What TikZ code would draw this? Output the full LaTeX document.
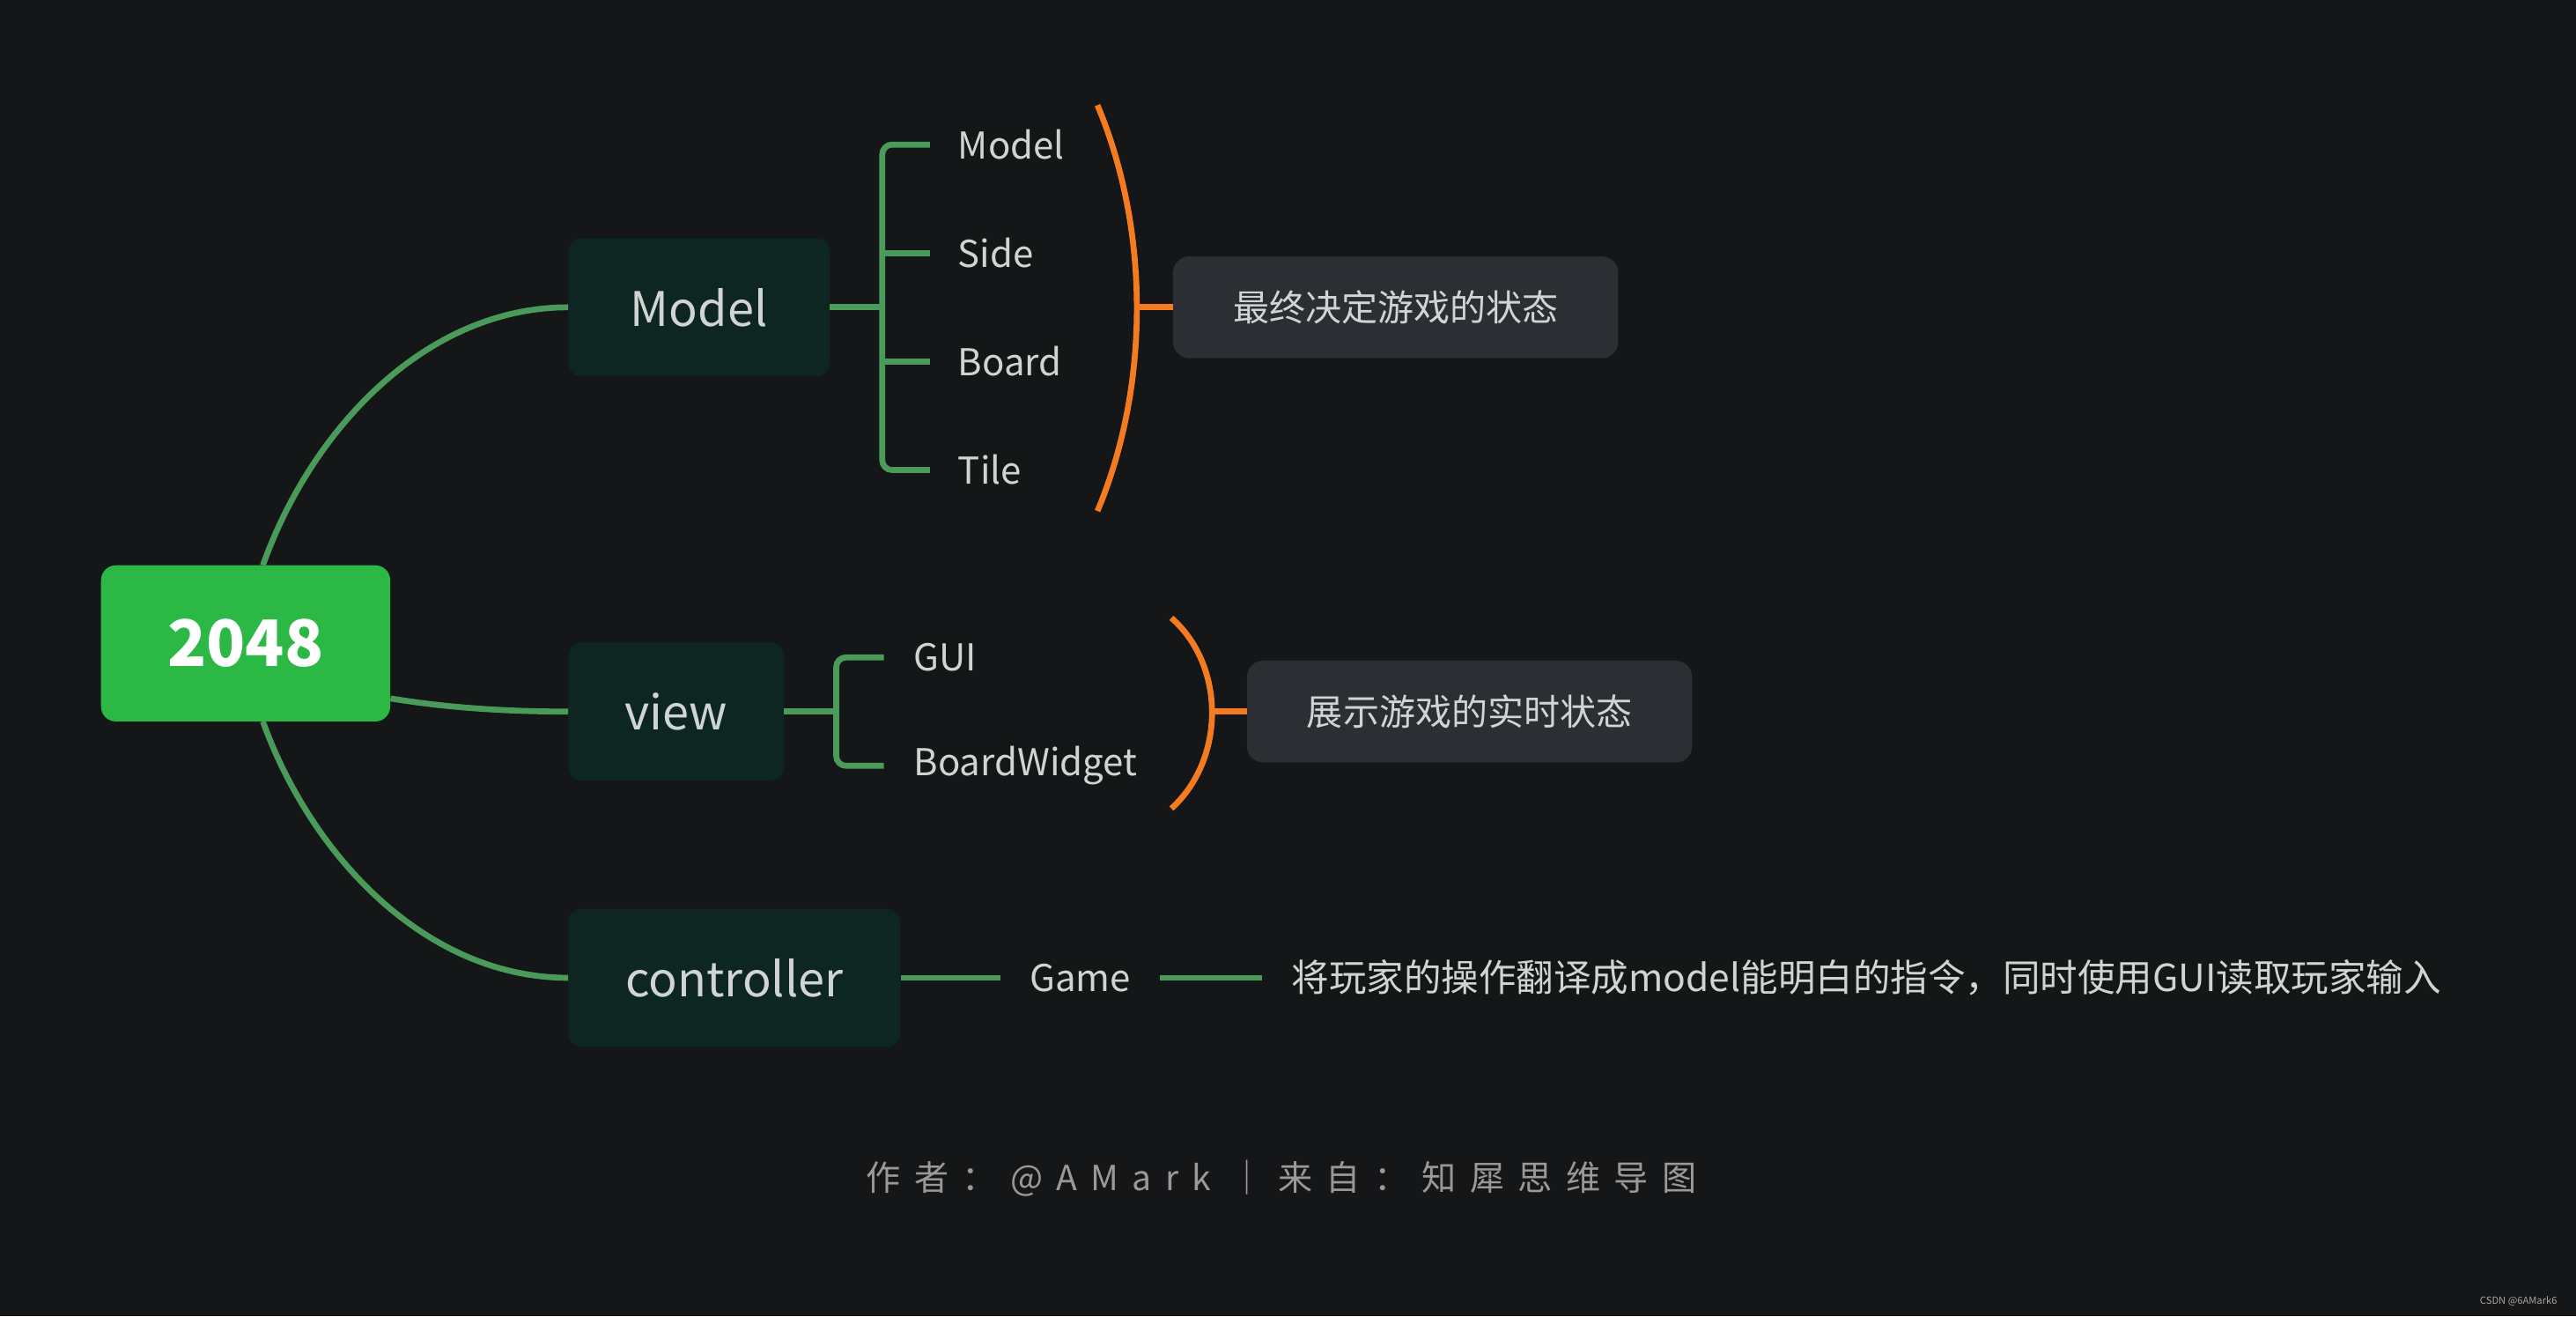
\documentclass[tikz,border=0pt]{standalone}
\usepackage{fontspec}
\setmainfont{Noto Sans CJK SC}
\newfontfamily\cjk{Noto Sans CJK SC}
\definecolor{bg}{HTML}{151618}
\definecolor{gr}{HTML}{2BB845}
\definecolor{dk}{HTML}{0D2621}
\definecolor{ln}{HTML}{4A9A5A}
\definecolor{og}{HTML}{F47B20}
\definecolor{bx}{HTML}{2C2E33}
\definecolor{tx}{HTML}{D0D4D2}
\newcommand\fsp{\hspace{0.39em}}
\begin{document}
\begin{tikzpicture}[x=1pt,y=-1pt,
 main/.style={fill=dk,rounded corners=8pt,text=tx,font=\fontsize{29}{30}\selectfont,inner sep=0},
 leaf/.style={text=tx,font=\fontsize{22.5}{24}\selectfont,anchor=west,inner sep=0},
 note/.style={fill=bx,rounded corners=10pt,text=tx,font=\fontsize{22}{24}\selectfont,inner sep=0},
 con/.style={draw=ln,line width=3.6pt},
 br/.style={draw=ln,line width=3.6pt,rounded corners=6pt},
 ob/.style={draw=og,line width=3.6pt}]
\fill[bg] (0,0) rectangle (1568,801);
\useasboundingbox (0,0) rectangle (1568,801);
% root
\node[fill=gr,rounded corners=9pt,minimum width=176pt,minimum height=95pt,text=white,font=\bfseries\fontsize{39}{40}\selectfont,inner sep=0] (root) at (149.5,391.5) {2048};
\node[main,minimum width=159pt,minimum height=84pt] (model) at (425.5,187) {Model};
\node[main,minimum width=131pt,minimum height=84pt] (view) at (411.5,433) {view};
\node[main,minimum width=202pt,minimum height=84pt] (ctrl) at (447,595) {controller};
\coordinate (rt) at (160,344);
\coordinate (rb) at (160,439);
\draw[con] (rt) .. controls (190,260) and (260,187) .. (model.west);
\draw[con] (root.east |- 0,425) .. controls (280,432) and (320,433) .. (view.west);
\draw[con] (rb) .. controls (190,522) and (260,595) .. (ctrl.west);
% model leaves
\node[leaf] (m1) at (583,88) {Model};
\node[leaf] (m2) at (583,154) {Side};
\node[leaf] (m3) at (583,220) {Board};
\node[leaf] (m4) at (583,286) {Tile};
\coordinate (mb) at (537,187);
\draw[con] (model.east) -- (mb);
\draw[br] (566,88) -- (537,88) -- (537,286) -- (566,286);
\draw[con] (537,154) -- (566,154);
\draw[con] (537,220) -- (566,220);
\draw[ob] (668,64) .. controls (700,140) and (700,235) .. (668,311);
\node[note,minimum width=271pt,minimum height=62pt] (n1) at (849.5,187) {最终决定游戏的状态};
\draw[ob] (692,187) -- (n1.west);
% view leaves
\node[leaf] (v1) at (556,400) {GUI};
\node[leaf] (v2) at (556,466) {BoardWidget};
\draw[con] (view.east) -- (509,433);
\draw[br] (538,400) -- (509,400) -- (509,466) -- (538,466);
\draw[ob] (713,376) .. controls (746,405) and (746,462) .. (713,492);
\node[note,minimum width=271pt,minimum height=62pt] (n2) at (894.5,433) {展示游戏的实时状态};
\draw[ob] (738,433) -- (n2.west);
% controller
\node[leaf,anchor=center] (game) at (657.5,595) {Game};
\node[leaf,font=\fontsize{22.8}{24}\selectfont] (n3) at (786,595) {将玩家的操作翻译成model能明白的指令，同时使用GUI读取玩家输入};
\draw[con] (ctrl.east) -- (609,595);
\draw[con] (706,595) -- (768,595);
% footer
\node[text=gray!80,font=\fontsize{21}{24}\selectfont] (ft) at (780,717) {作\fsp 者\fsp ：\fsp @\fsp A\fsp M\fsp a\fsp r\fsp k\fsp\,｜\fsp 来\fsp 自\fsp ：\fsp 知\fsp 犀\fsp 思\fsp 维\fsp 导\fsp 图};
\node[text=gray!70,font=\fontsize{6}{7}\selectfont,anchor=east] (cs) at (1560,792) {CSDN @6AMark6};
\end{tikzpicture}
\end{document}
